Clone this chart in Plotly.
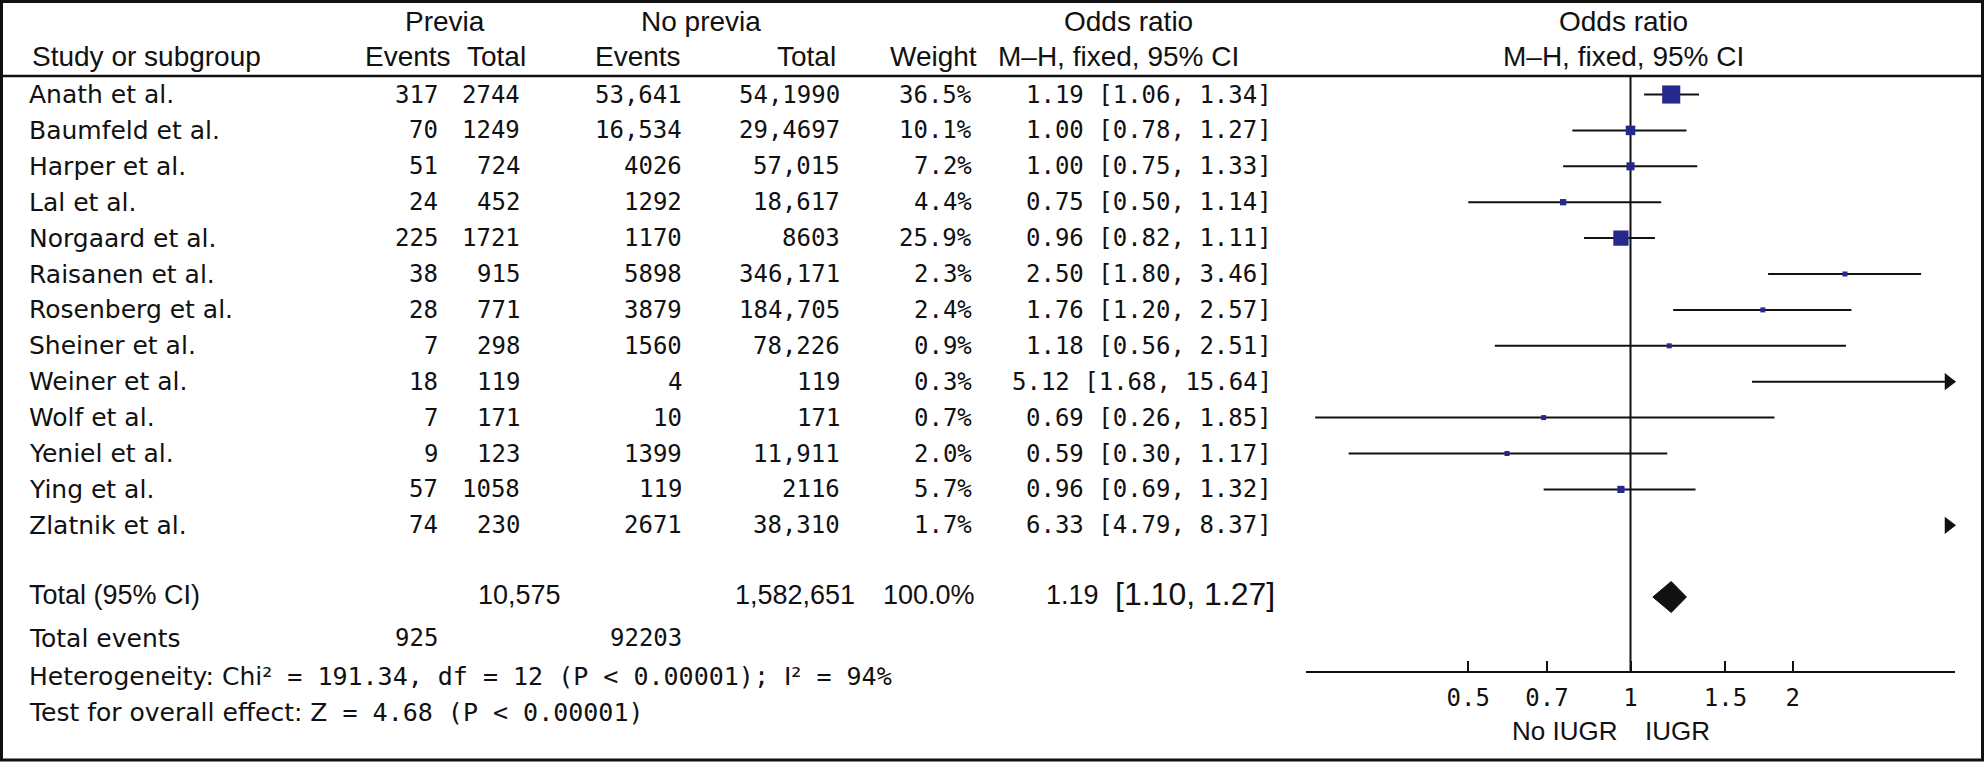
import math
import plotly.graph_objects as go

# ---------------- data ----------------
studies = ["Anath et al.", "Baumfeld et al.", "Harper et al.", "Lal et al.", "Norgaard et al.",
           "Raisanen et al.", "Rosenberg et al.", "Sheiner et al.", "Weiner et al.", "Wolf et al.",
           "Yeniel et al.", "Ying et al.", "Zlatnik et al."]
previa_events = ["317", "70", "51", "24", "225", "38", "28", "7", "18", "7", "9", "57", "74"]
previa_total = ["2744", "1249", "724", "452", "1721", "915", "771", "298", "119", "171", "123", "1058", "230"]
noprevia_events = ["53,641", "16,534", "4026", "1292", "1170", "5898", "3879", "1560", "4", "10", "1399", "119", "2671"]
noprevia_total = ["54,1990", "29,4697", "57,015", "18,617", "8603", "346,171", "184,705", "78,226",
                  "119", "171", "11,911", "2116", "38,310"]
weights = [36.5, 10.1, 7.2, 4.4, 25.9, 2.3, 2.4, 0.9, 0.3, 0.7, 2.0, 5.7, 1.7]
or_est = [1.19, 1.00, 1.00, 0.75, 0.96, 2.50, 1.76, 1.18, 5.12, 0.69, 0.59, 0.96, 6.33]
or_lo = [1.06, 0.78, 0.75, 0.50, 0.82, 1.80, 1.20, 0.56, 1.68, 0.26, 0.30, 0.69, 4.79]
or_hi = [1.34, 1.27, 1.33, 1.14, 1.11, 3.46, 2.57, 2.51, 15.64, 1.85, 1.17, 1.32, 8.37]

total_previa = "10,575"
total_noprevia = "1,582,651"
total_weight = "100.0%"
total_est, total_lo, total_hi = 1.19, 1.10, 1.27
total_events_previa = "925"
total_events_noprevia = "92203"
heterogeneity_parts = ["Heterogeneity: Chi²", " = 191.34, df = 12 (P &lt; 0.00001); ", "I²", " = 94%"]
overall_parts = ["Test for overall effect: Z", " = 4.68 (P &lt; 0.00001)"]

tick_vals = [0.5, 0.7, 1, 1.5, 2]
tick_text = ["0.5", "0.7", "1", "1.5", "2"]
XMIN, XMAX = 0.25, 4.0
left_label, right_label = "No IUGR", "IUGR"

# ---------------- layout constants (pixels) ----------------
W, H = 1985, 763
HEADER_LINE_Y = 76
AXIS_Y = 671
ROW0_Y = 94.5
ROW_STEP = 35.9
TOTAL_Y = 595
EVENTS_Y = 638
HET_Y = 676
OVERALL_Y = 712
PLOT_X0, PLOT_X1 = 1306, 1955
ARROW_SIZE = 15

COL_NAME = 27
COL_PE = 440
COL_PT = 522
COL_NE = 684
COL_NT = 842
COL_W = 974
COL_OR = 1274

BLUE = "#26298c"
INK = "#111111"
SANS = "DejaVu Sans"
MONO = "DejaVu Sans Mono"
ARIAL = "Liberation Sans"

row_y = [ROW0_Y + i * ROW_STEP for i in range(len(studies))]
px_per_decade = (PLOT_X1 - PLOT_X0) / math.log10(XMAX / XMIN)

annotations = []


def txt(x, y, s, anchor="left", size=24, family=SANS):
    annotations.append(dict(x=x / W, y=1 - y / H, xref="paper", yref="paper", text=s,
                            showarrow=False, xanchor=anchor, yanchor="middle",
                            font=dict(family=family, size=size, color=INK)))


def sans(s):
    return f'<span style="font-family:{SANS}">{s}</span>'


# headers
txt(445, 22, "Previa", "center", 28, ARIAL)
txt(701, 22, "No previa", "center", 28, ARIAL)
txt(1128, 22, "Odds ratio", "center", 28, ARIAL)
txt(1623, 22, "Odds ratio", "center", 28, ARIAL)
txt(30, 56, "Study or subgroup", "left", 28, ARIAL)
txt(453, 56, "Events", "right", 28, ARIAL)
txt(528, 56, "Total", "right", 28, ARIAL)
txt(683, 56, "Events", "right", 28, ARIAL)
txt(838, 56, "Total", "right", 28, ARIAL)
txt(979, 56, "Weight", "right", 28, ARIAL)
txt(1118, 56, "M–H, fixed, 95% CI", "center", 28, ARIAL)
txt(1623, 56, "M–H, fixed, 95% CI", "center", 28, ARIAL)

# study rows
for i, name in enumerate(studies):
    y = row_y[i]
    txt(COL_NAME, y, name, "left", 25, SANS)
    txt(COL_PE, y, previa_events[i], "right", 24, MONO)
    txt(COL_PT, y, previa_total[i], "right", 24, MONO)
    txt(COL_NE, y, noprevia_events[i], "right", 24, MONO)
    txt(COL_NT, y, noprevia_total[i], "right", 24, MONO)
    txt(COL_W, y, f"{weights[i]:.1f}%", "right", 24, MONO)
    txt(COL_OR, y, f"{or_est[i]:.2f} [{or_lo[i]:.2f}, {or_hi[i]:.2f}]", "right", 24, MONO)

# totals
txt(COL_NAME, TOTAL_Y, "Total (95% CI)", "left", 27, ARIAL)
txt(563, TOTAL_Y, total_previa, "right", 27, ARIAL)
txt(857, TOTAL_Y, total_noprevia, "right", 27, ARIAL)
txt(977, TOTAL_Y, total_weight, "right", 27, ARIAL)
txt(1101, TOTAL_Y, f"{total_est:.2f}", "right", 27, ARIAL)
txt(1277, TOTAL_Y - 1, f"[{total_lo:.2f}, {total_hi:.2f}]", "right", 32, ARIAL)

txt(COL_NAME, EVENTS_Y, "Total events", "left", 25, SANS)
txt(COL_PE, EVENTS_Y, total_events_previa, "right", 24, MONO)
txt(COL_NE, EVENTS_Y, total_events_noprevia, "right", 24, MONO)

h = heterogeneity_parts
txt(COL_NAME, HET_Y, sans(h[0]) + h[1] + sans(h[2]) + h[3], "left", 25, MONO)
o = overall_parts
txt(COL_NAME, OVERALL_Y, sans(o[0]) + o[1], "left", 25, MONO)

# direction labels under the axis (annotation x on a log axis is given in log10 units)
for lab, anc, shift in [(left_label, "right", -12), (right_label, "left", 12)]:
    annotations.append(dict(x=math.log10(1), xref="x", y=1 - 731 / H, yref="paper", text=lab,
                            showarrow=False, xanchor=anc, yanchor="middle", xshift=shift,
                            font=dict(family=ARIAL, size=26, color=INK)))

# ---------------- traces ----------------
fig = go.Figure()

# confidence interval lines (clipped to axis range)
ci_x, ci_y = [], []
for i in range(len(studies)):
    lo, hi = max(or_lo[i], XMIN), min(or_hi[i], XMAX)
    if lo < hi:
        ci_x += [lo, hi, None]
        ci_y += [row_y[i], row_y[i], None]
fig.add_trace(go.Scatter(x=ci_x, y=ci_y, mode="lines", line=dict(color=INK, width=2),
                         hoverinfo="skip", showlegend=False))

# point estimate squares (area proportional to weight)
sq_x, sq_y, sq_s = [], [], []
for i in range(len(studies)):
    if XMIN <= or_est[i] <= XMAX:
        sq_x.append(or_est[i])
        sq_y.append(row_y[i])
        sq_s.append(max(3.0 * math.sqrt(weights[i]), 5))
fig.add_trace(go.Scatter(x=sq_x, y=sq_y, mode="markers",
                         marker=dict(symbol="square", size=sq_s, color=BLUE, opacity=1,
                                     line=dict(width=0)),
                         hoverinfo="skip", showlegend=False))

# arrows for intervals running off the right edge (tip placed at the axis end)
ar_y = [row_y[i] for i in range(len(studies)) if or_hi[i] > XMAX]
arrow_x = XMAX * 10 ** (-(ARROW_SIZE / 2 - 1) / px_per_decade)
fig.add_trace(go.Scatter(x=[arrow_x] * len(ar_y), y=ar_y, mode="markers",
                         marker=dict(symbol="triangle-right", size=ARROW_SIZE, color=INK, opacity=1,
                                     line=dict(width=0)),
                         cliponaxis=False, hoverinfo="skip", showlegend=False))

# pooled diamond
DH = 15.5
fig.add_trace(go.Scatter(x=[total_lo, total_est, total_hi, total_est, total_lo],
                         y=[TOTAL_Y + 2, TOTAL_Y + 2 - DH, TOTAL_Y + 2, TOTAL_Y + 2 + DH, TOTAL_Y + 2],
                         mode="lines", fill="toself", fillcolor=INK, line=dict(color=INK, width=1),
                         hoverinfo="skip", showlegend=False))

# ---------------- shapes ----------------
shapes = [
    # outer frame
    dict(type="rect", xref="paper", yref="paper", x0=1.5 / W, x1=1982.5 / W, y0=1 - 760 / H, y1=1 - 1.5 / H,
         line=dict(color=INK, width=3), layer="above"),
    # header separator
    dict(type="line", xref="paper", yref="paper", x0=0, x1=1982 / W, y0=1 - HEADER_LINE_Y / H,
         y1=1 - HEADER_LINE_Y / H, line=dict(color=INK, width=2.5)),
    # line of no effect
    dict(type="line", xref="x", yref="y", x0=1, x1=1, y0=HEADER_LINE_Y, y1=AXIS_Y,
         line=dict(color=INK, width=2), layer="below"),
]

fig.update_layout(
    width=W, height=H, autosize=False,
    margin=dict(l=0, r=0, t=0, b=0, pad=0),
    paper_bgcolor="white", plot_bgcolor="white",
    showlegend=False,
    annotations=annotations,
    shapes=shapes,
    xaxis=dict(type="log", range=[math.log10(XMIN), math.log10(XMAX)],
               domain=[PLOT_X0 / W, PLOT_X1 / W],
               showline=True, linecolor=INK, linewidth=2,
               ticks="inside", ticklen=10, tickwidth=2, tickcolor=INK,
               tickvals=tick_vals, ticktext=tick_text,
               tickfont=dict(family=MONO, size=24, color=INK),
               ticklabelstandoff=4,
               showgrid=False, zeroline=False, fixedrange=True),
    yaxis=dict(range=[AXIS_Y, HEADER_LINE_Y], autorange=False,
               domain=[1 - AXIS_Y / H, 1 - HEADER_LINE_Y / H],
               visible=False, showgrid=False, zeroline=False, fixedrange=True),
)

fig.write_html("out.html", config={"displayModeBar": False},
               post_script="document.body.style.margin='0';document.body.style.overflow='hidden';")
